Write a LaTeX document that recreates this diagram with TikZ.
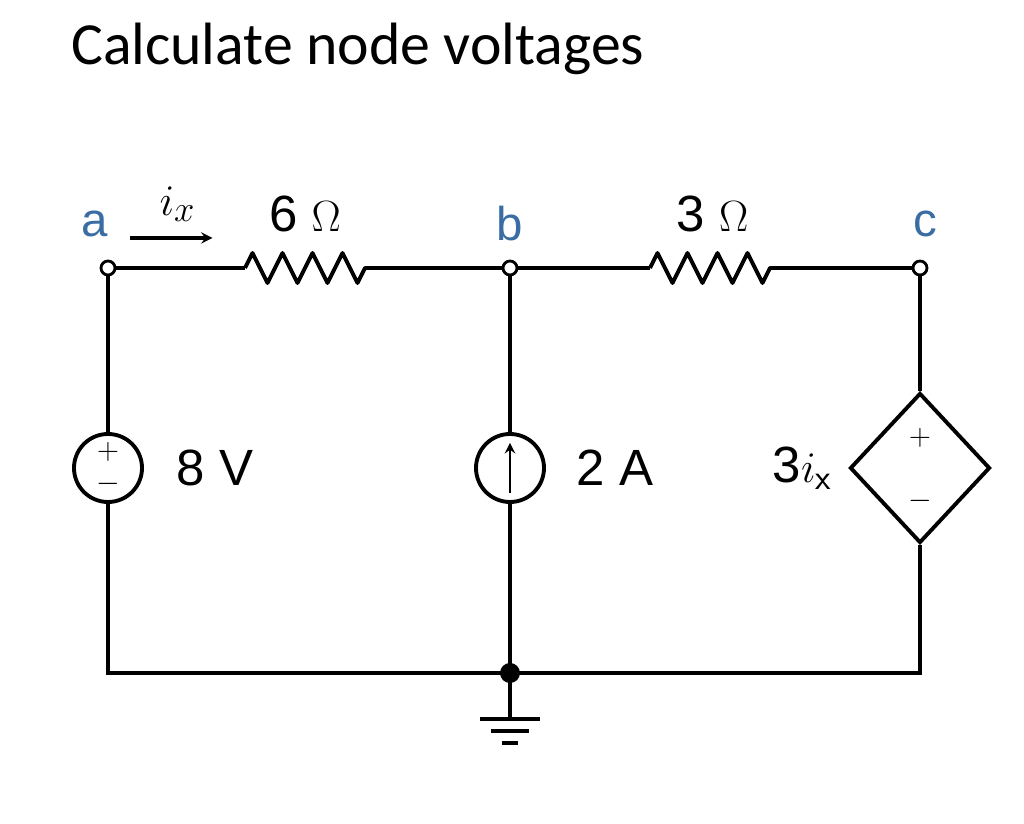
\documentclass[tikz,border=0pt]{standalone}
\usepackage{fontspec}
\setmainfont{Liberation Sans}
\newfontfamily\titlefont{Carlito}
\usetikzlibrary{positioning,shapes.geometric}
\begin{document}
\begin{tikzpicture}[
    wire/.style={line width=2.2pt},
    term/.style={circle, draw, line width=1.6pt, fill=white, inner sep=0pt, minimum size=0.28cm},
    src/.style={circle, draw, line width=2.2pt, fill=white, minimum size=1.36cm, inner sep=0pt},
    dep/.style={diamond, draw, line width=2.2pt, fill=white, minimum width=2.8cm, minimum height=3cm, inner sep=0pt},
    lbl/.style={font=\fontsize{29}{32}\selectfont},
    sgn/.style={font=\fontsize{18}{20}\selectfont, inner sep=0pt},
    nlbl/.style={font=\fontsize{27}{30}\selectfont, text=cyan!55!blue!75!black}
]
\useasboundingbox (0,0) rectangle (20.48,16.48);

% titolo
\node[anchor=west, font=\titlefont\fontsize{34}{40}\selectfont] (title) at (1.3,15.5) {Calculate node voltages};

% nodi
\coordinate (a) at (2.16,11.12);
\coordinate (b) at (10.2,11.12);
\coordinate (c) at (18.4,11.12);
\coordinate (gnd) at (10.2,3.02);
\coordinate (al) at (2.16,3.02);
\coordinate (cl) at (18.4,3.02);
\coordinate (r1a) at (4.9,11.12);
\coordinate (r1b) at (7.4,11.12);
\coordinate (r2a) at (13.0,11.12);
\coordinate (r2b) at (15.5,11.12);

% sorgenti
\node[src] (vs) at (2.16,7.12) {};
\node[src] (is) at (10.2,7.12) {};
\node[dep] (ds) at (18.4,7.12) {};

% fili
\draw[wire] (a) -- (r1a) (r1b) -- (r2a) (r2b) -- (c);
\draw[wire] (a) -- (vs.north) (vs.south) -- (al) -- (cl) -- (ds.south) (ds.north) -- (c);
\draw[wire] (b) -- (is.north) (is.south) -- (gnd);
\foreach \s/\e in {r1a/r1b, r2a/r2b}
    \draw[wire, line join=round] (\s) -- ++(0.15,0.3) -- ++(0.3,-0.6) -- ++(0.3,0.6) -- ++(0.3,-0.6)
        -- ++(0.3,0.6) -- ++(0.3,-0.6) -- ++(0.3,0.6) -- ++(0.3,-0.6) -- ++(0.15,0.3) -- (\e);

% massa
\coordinate (g1) at (10.2,2.1);
\draw[wire] (gnd) -- (g1);
\draw[wire] ([xshift=-0.6cm]g1) -- ([xshift=0.6cm]g1);
\draw[wire] ([xshift=-0.38cm,yshift=-0.24cm]g1) -- ([xshift=0.38cm,yshift=-0.24cm]g1);
\draw[wire] ([xshift=-0.16cm,yshift=-0.48cm]g1) -- ([xshift=0.16cm,yshift=-0.48cm]g1);
\fill (gnd) circle (0.2);

% terminali
\node[term] at (a) {};
\node[term] at (b) {};
\node[term] at (c) {};

% segni
\node[sgn] at ([yshift=0.32cm]vs.center) {$+$};
\node[sgn] at ([yshift=-0.32cm]vs.center) {$-$};
\draw[line width=1.6pt, -stealth] ([yshift=-0.5cm]is.center) -- ([yshift=0.5cm]is.center);
\node[sgn] at ([yshift=0.6cm]ds.center) {$+$};
\node[sgn] at ([yshift=-0.65cm]ds.center) {$-$};

% etichette
\node[nlbl] at (1.9,12.0) {a};
\node[nlbl] at (10.2,12.0) {b};
\node[nlbl] at (18.5,12.0) {c};
\node[lbl] at (6.1,12.2) {6 $\Omega$};
\node[lbl] at (14.25,12.2) {3 $\Omega$};
\node[lbl] (ix) at (3.55,12.4) {$i_x$};
\draw[line width=1.8pt, -stealth] (2.6,11.72) -- (4.25,11.72);
\node[lbl] at (4.3,7.12) {8 V};
\node[lbl] at (12.3,7.12) {2 A};
\node[lbl] at (16.05,7.12) {3$i_{\mathsf{x}}$};
\end{tikzpicture}
\end{document}
